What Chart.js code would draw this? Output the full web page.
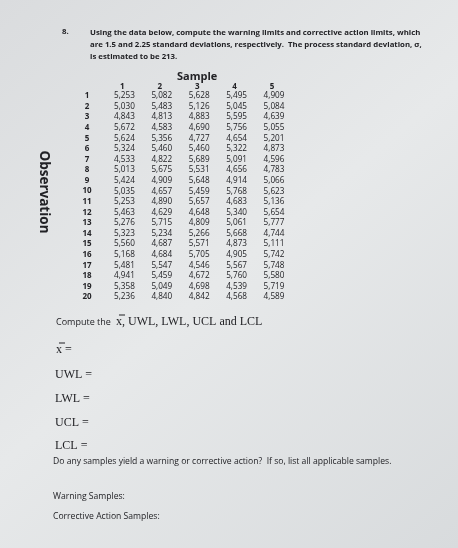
<!DOCTYPE html>
<html><head><meta charset="utf-8">
<script src="https://cdn.jsdelivr.net/npm/chart.js@4"></script>
<style>
html,body{margin:0;padding:0;background:#e4e6e8;}
#wrap{width:458px;height:548px;position:relative;}
</style></head>
<body><div id="wrap"><canvas id="c" width="458" height="548"></canvas></div>
<script>
// sample data (rows = observations 1..20, columns = samples 1..5)
const rows = [1,2,3,4,5,6,7,8,9,10,11,12,13,14,15,16,17,18,19,20];
const cols = ["1","2","3","4","5"];
const sample1 = [5253,5030,4843,5672,5624,5324,4533,5013,5424,5035,5253,5463,5276,5323,5560,5168,5481,4941,5358,5236];
const sample2 = [5082,5483,4813,4583,5356,5460,4822,5675,4909,4657,4890,4629,5715,5234,4687,4684,5547,5459,5049,4840];
const sample3 = [5628,5126,4883,4690,4727,5460,5689,5531,5648,5459,5657,4648,4809,5266,5571,5705,4546,4672,4698,4842];
const sample4 = [5495,5045,5595,5756,4654,5322,5091,4656,4914,5768,4683,5340,5061,5668,4873,4905,5567,5760,4539,4568];
const sample5 = [4909,5084,4639,5055,5201,4873,4596,4783,5066,5623,5136,5654,5777,4744,5111,5742,5748,5580,5719,4589];
const samples = [sample1, sample2, sample3, sample4, sample5];

const sans = "'Open Sans', 'Liberation Sans', sans-serif";
const serif = "'Liberation Serif', 'DejaVu Serif', serif";
const ink = "#222226";

const tablePlugin = {
  id: "tableText",
  beforeDraw(chart){
    const ctx = chart.ctx;
    const g = ctx.createLinearGradient(0,0,458,548);
    g.addColorStop(0,"#dadcde"); g.addColorStop(0.5,"#e7e9ea"); g.addColorStop(1,"#d8dbdd");
    ctx.save(); ctx.fillStyle = g; ctx.fillRect(0,0,458,548); ctx.restore();
  },
  afterDatasetsDraw(chart){
    const ctx = chart.ctx, xs = chart.scales.x, ys = chart.scales.y;
    ctx.save();
    ctx.fillStyle = ink;
    ctx.textBaseline = "middle";
    // header
    ctx.font = "bold 7.8px " + sans;
    ctx.textAlign = "left";
    ctx.fillText("8.", 62, 32);
    ctx.fillText("Using the data below, compute the warning limits and corrective action limits, which", 90, 33);
    ctx.fillText("are 1.5 and 2.25 standard deviations, respectively.  The process standard deviation, \u03c3,", 90, 45);
    ctx.fillText("is estimated to be 213.", 90, 57);
    ctx.font = "bold 11px " + sans;
    ctx.textAlign = "center";
    ctx.fillText("Sample", xs.getPixelForValue(3) - 2, 77);
    // column headers and cells
    ctx.font = "bold 8px " + sans;
    cols.forEach((c,i) => ctx.fillText(c, xs.getPixelForValue(i+1) - 2, 87));
    rows.forEach(r => ctx.fillText(String(r), xs.getPixelForValue(0), ys.getPixelForValue(r)));
    ctx.font = "8.2px " + sans;
    samples.forEach((s,i) => s.forEach((v,j) =>
      ctx.fillText(v.toLocaleString("en-US"), xs.getPixelForValue(i+1), ys.getPixelForValue(rows[j]))));
    // side label
    ctx.save();
    ctx.translate(44, 192); ctx.rotate(Math.PI/2);
    ctx.font = "bold 13.5px " + sans; ctx.textAlign = "center";
    ctx.fillText("Observation", 0, 0);
    ctx.restore();
    // questions
    ctx.textAlign = "left";
    ctx.font = "9px " + sans;
    ctx.fillText("Compute the", 56, 322);
    ctx.font = "12px " + serif;
    ctx.fillText("x\u033F, UWL, LWL, UCL and LCL", 116, 322);
    ctx.fillText("x\u033F =", 56, 350);
    ctx.fillText("UWL =", 55, 375);
    ctx.fillText("LWL =", 55, 399);
    ctx.fillText("UCL =", 55, 423);
    ctx.fillText("LCL =", 55, 446);
    ctx.font = "8.6px " + sans;
    ctx.fillText("Do any samples yield a warning or corrective action?  If so, list all applicable samples.", 53, 462);
    ctx.fillText("Warning Samples:", 53, 497);
    ctx.fillText("Corrective Action Samples:", 53, 517);
    ctx.restore();
  }
};

const datasets = samples.map((s,i) => ({
  label: "Sample " + cols[i],
  data: s.map((v,j) => ({x: i+1, y: rows[j], v})),
  pointRadius: 0, showLine: false
}));

new Chart(document.getElementById("c"), {
  type: "scatter",
  data: { datasets },
  options: {
    responsive: false, animation: false,
    layout: { padding: { left: 87, right: 184, top: 96, bottom: 251 } },
    plugins: { legend: { display: false }, tooltip: { enabled: false } },
    scales: {
      x: { type: "linear", min: 0, max: 5, display: false },
      y: { type: "linear", min: 1, max: 20, reverse: true, display: false }
    }
  },
  plugins: [tablePlugin]
});
</script></body></html>
